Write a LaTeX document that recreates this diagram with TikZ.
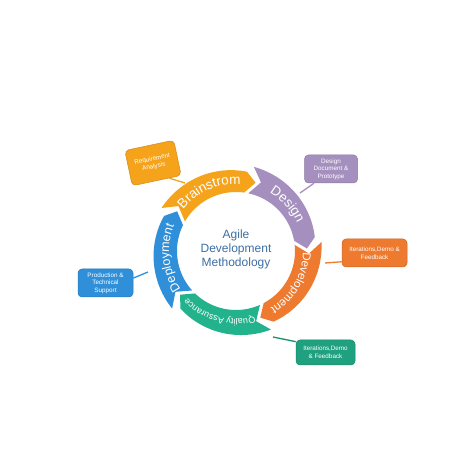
\documentclass[tikz,border=0pt]{standalone}
\usepackage{fontspec}
\setmainfont{Liberation Sans}
\usetikzlibrary{decorations.text}
\definecolor{cBrain}{HTML}{F6A31C}
\definecolor{cDesign}{HTML}{A58FBE}
\definecolor{cDev}{HTML}{EE7A2F}
\definecolor{cQA}{HTML}{22B28C}
\definecolor{cDep}{HTML}{2F8FD9}
\definecolor{cCenter}{HTML}{3D6FA4}
\newcommand{\ringseg}[2]{%
  \fill[#2] plot[domain=0:1,samples=30] ({#1-68*\x}:{86-6*\x})
    -- ({#1-76}:{71})
    -- plot[domain=0:1,samples=30] ({#1-68+68*\x}:{59})
    -- ({#1-8}:{73}) -- cycle;}
\newcommand{\ringtext}[4]{% mid angle, radius, size, text
  \path[decorate, decoration={text along path, text align=center,
    text={|\fontsize{#3}{#3}\selectfont\color{white}|#4}}]
    ({#1+50}:#2) arc[start angle={#1+50}, end angle={#1-50}, radius=#2];}
\tikzset{
  callout/.style={rounded corners=4pt, text=white, align=center,
    font=\fontsize{6.3}{7.6}\selectfont, inner sep=1pt, fill=#1, draw=#1!85!black, line width=0.5pt},
  pointer/.style={line width=1.3pt, draw=#1},
}
\begin{document}
\begin{tikzpicture}[x=1pt,y=1pt]
\useasboundingbox (0,0) rectangle (474,474);
\fill[white] (0,0) rectangle (474,474);

\begin{scope}[shift={(236,223)}]
  \ringseg{150}{cBrain}
  \ringseg{78}{cDesign}
  \ringseg{6}{cDev}
  \ringseg{-66}{cQA}
  \ringseg{-138}{cDep}
  \ringtext{114}{67}{13.5}{Brainstrom}
  \ringtext{42}{67}{13.5}{Design}
  \ringtext{-30}{67}{11.5}{Development}
  \ringtext{-105}{68}{9}{Quality Assurance}
  \ringtext{-174}{67}{12.5}{Deployment}
  \node[align=center, text=cCenter, font=\fontsize{12}{14}\selectfont] (center) at (0,2) {Agile\\Development\\Methodology};
\end{scope}

% callouts
\node[callout=cBrain, rotate=12, minimum width=50pt, minimum height=36pt] (req) at (153,311) {Requirement\\Analysis};
\node[callout=cDesign, minimum width=53pt, minimum height=28pt] (des) at (331,305) {Design\\Document \&\\Prototype};
\node[callout=cDev, minimum width=65pt, minimum height=28pt] (dev) at (374.5,221) {Iterations,Demo \&\\Feedback};
\node[callout=cDep, minimum width=55pt, minimum height=28pt] (dep) at (105.5,191) {Production \&\\Technical\\Support};
\node[callout=cQA!90!black, minimum width=59pt, minimum height=25pt] (qa) at (325.5,121.5) {Iterations,Demo\\\& Feedback};

\coordinate (preq) at (185,291);
\coordinate (pdes) at (300,281);
\coordinate (pdev) at (325,211);
\coordinate (pdep) at (148,202);
\coordinate (pqa) at (273,137);

\draw[pointer=cBrain] (req.-55) -- (preq);
\draw[pointer=cDesign] (des.-140) -- (pdes);
\draw[pointer=cDev] (dev.-165) -- (pdev);
\draw[pointer=cDep] (dep.10) -- (pdep);
\draw[pointer=cQA!80!black] (qa.160) -- (pqa);
\end{tikzpicture}
\end{document}
